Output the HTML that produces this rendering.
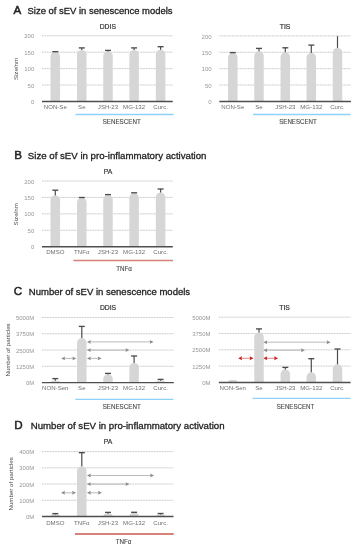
<!DOCTYPE html>
<html><head><meta charset="utf-8"><style>
html,body{margin:0;padding:0;background:#fff;}
body{width:359px;height:550px;overflow:hidden;}
svg{display:block;font-family:"Liberation Sans",Arial,sans-serif;}
</style></head><body>
<svg width="359" height="550" viewBox="0 0 359 550">
<rect width="359" height="550" fill="#fff"/>
<text x="13.60" y="13.70" font-size="11.6" fill="#1f1f1f" text-anchor="start" font-weight="normal" stroke="#1f1f1f" stroke-width="0.5">A</text>
<text x="27.50" y="13.50" font-size="9.2" fill="#1f1f1f" text-anchor="start" font-weight="normal" stroke="#1f1f1f" stroke-width="0.3" textLength="145.0" lengthAdjust="spacingAndGlyphs">Size of sEV in senescence models</text>
<text x="14.20" y="158.70" font-size="11.6" fill="#1f1f1f" text-anchor="start" font-weight="normal" stroke="#1f1f1f" stroke-width="0.5">B</text>
<text x="27.80" y="158.50" font-size="9.2" fill="#1f1f1f" text-anchor="start" font-weight="normal" stroke="#1f1f1f" stroke-width="0.3" textLength="178.7" lengthAdjust="spacingAndGlyphs">Size of sEV in pro-inflammatory activation</text>
<text x="13.80" y="294.80" font-size="11.6" fill="#1f1f1f" text-anchor="start" font-weight="normal" stroke="#1f1f1f" stroke-width="0.5">C</text>
<text x="28.80" y="294.60" font-size="9.2" fill="#1f1f1f" text-anchor="start" font-weight="normal" stroke="#1f1f1f" stroke-width="0.3" textLength="161.3" lengthAdjust="spacingAndGlyphs">Number of sEV in senescence models</text>
<text x="14.30" y="429.10" font-size="11.6" fill="#1f1f1f" text-anchor="start" font-weight="normal" stroke="#1f1f1f" stroke-width="0.5">D</text>
<text x="30.70" y="428.90" font-size="9.2" fill="#1f1f1f" text-anchor="start" font-weight="normal" stroke="#1f1f1f" stroke-width="0.3" textLength="193.8" lengthAdjust="spacingAndGlyphs">Number of sEV in pro-inflammatory activation</text>
<text x="34.30" y="104.00" font-size="6.0" fill="#979797" text-anchor="end" font-weight="normal" >0</text>
<line x1="42.00" y1="85.00" x2="172.80" y2="85.00" stroke="#bdbdbd" stroke-width="0.9" stroke-dasharray="1 0.6"/>
<text x="34.30" y="87.60" font-size="6.0" fill="#979797" text-anchor="end" font-weight="normal" >50</text>
<line x1="42.00" y1="68.60" x2="172.80" y2="68.60" stroke="#bdbdbd" stroke-width="0.9" stroke-dasharray="1 0.6"/>
<text x="34.30" y="71.20" font-size="6.0" fill="#979797" text-anchor="end" font-weight="normal" >100</text>
<line x1="42.00" y1="52.20" x2="172.80" y2="52.20" stroke="#bdbdbd" stroke-width="0.9" stroke-dasharray="1 0.6"/>
<text x="34.30" y="54.80" font-size="6.0" fill="#979797" text-anchor="end" font-weight="normal" >150</text>
<line x1="42.00" y1="35.80" x2="172.80" y2="35.80" stroke="#bdbdbd" stroke-width="0.9" stroke-dasharray="1 0.6"/>
<text x="34.30" y="38.40" font-size="6.0" fill="#979797" text-anchor="end" font-weight="normal" >200</text>
<path d="M50.55,101.40 L50.55,56.60 A4.60,4.60 0 0 1 55.15,52.00 L55.45,52.00 A4.60,4.60 0 0 1 60.05,56.60 L60.05,101.40 Z" fill="#d6d6d6"/>
<path d="M77.05,101.40 L77.05,54.60 A4.60,4.60 0 0 1 81.65,50.00 L81.95,50.00 A4.60,4.60 0 0 1 86.55,54.60 L86.55,101.40 Z" fill="#d6d6d6"/>
<path d="M103.25,101.40 L103.25,56.00 A4.60,4.60 0 0 1 107.85,51.40 L108.15,51.40 A4.60,4.60 0 0 1 112.75,56.00 L112.75,101.40 Z" fill="#d6d6d6"/>
<path d="M129.35,101.40 L129.35,54.60 A4.60,4.60 0 0 1 133.95,50.00 L134.25,50.00 A4.60,4.60 0 0 1 138.85,54.60 L138.85,101.40 Z" fill="#d6d6d6"/>
<path d="M155.85,101.40 L155.85,54.30 A4.60,4.60 0 0 1 160.45,49.70 L160.75,49.70 A4.60,4.60 0 0 1 165.35,54.30 L165.35,101.40 Z" fill="#d6d6d6"/>
<line x1="52.30" y1="51.70" x2="58.30" y2="51.70" stroke="#4d4d4d" stroke-width="1.35" />
<line x1="81.80" y1="50.00" x2="81.80" y2="47.90" stroke="#4d4d4d" stroke-width="1.2" />
<line x1="78.80" y1="47.90" x2="84.80" y2="47.90" stroke="#4d4d4d" stroke-width="1.35" />
<line x1="108.00" y1="51.40" x2="108.00" y2="50.40" stroke="#4d4d4d" stroke-width="1.2" />
<line x1="105.00" y1="50.40" x2="111.00" y2="50.40" stroke="#4d4d4d" stroke-width="1.35" />
<line x1="134.10" y1="50.00" x2="134.10" y2="47.90" stroke="#4d4d4d" stroke-width="1.2" />
<line x1="131.10" y1="47.90" x2="137.10" y2="47.90" stroke="#4d4d4d" stroke-width="1.35" />
<line x1="160.60" y1="49.70" x2="160.60" y2="46.70" stroke="#4d4d4d" stroke-width="1.2" />
<line x1="157.60" y1="46.70" x2="163.60" y2="46.70" stroke="#4d4d4d" stroke-width="1.35" />
<line x1="42.00" y1="101.40" x2="172.80" y2="101.40" stroke="#4e4e4e" stroke-width="1.45" />
<text x="55.30" y="109.40" font-size="6.1" fill="#707070" text-anchor="middle" font-weight="normal" >NON-Se</text>
<text x="81.80" y="109.40" font-size="6.1" fill="#707070" text-anchor="middle" font-weight="normal" >Se</text>
<text x="108.00" y="109.40" font-size="6.1" fill="#707070" text-anchor="middle" font-weight="normal" >JSH-23</text>
<text x="134.10" y="109.40" font-size="6.1" fill="#707070" text-anchor="middle" font-weight="normal" >MG-132</text>
<text x="160.60" y="109.40" font-size="6.1" fill="#707070" text-anchor="middle" font-weight="normal" >Curc.</text>
<text x="107.80" y="28.70" font-size="6.8" fill="#333333" text-anchor="middle" font-weight="normal" stroke="#333333" stroke-width="0.2">DDIS</text>
<line x1="75.50" y1="114.50" x2="173.60" y2="114.50" stroke="#8ed2fa" stroke-width="1.35" />
<text x="121.70" y="123.90" font-size="6.5" fill="#4a4a4a" text-anchor="middle" font-weight="normal" stroke="#4a4a4a" stroke-width="0.12" textLength="38" lengthAdjust="spacingAndGlyphs">SENESCENT</text>
<text x="18.30" y="69.00" font-size="6.15" fill="#4a4a4a" text-anchor="middle" font-weight="normal" transform="rotate(-90 18.30 69.00)">Size/nm</text>
<text x="211.60" y="104.00" font-size="6.0" fill="#979797" text-anchor="end" font-weight="normal" >0</text>
<line x1="219.30" y1="85.03" x2="350.90" y2="85.03" stroke="#bdbdbd" stroke-width="0.9" stroke-dasharray="1 0.6"/>
<text x="211.60" y="87.62" font-size="6.0" fill="#979797" text-anchor="end" font-weight="normal" >50</text>
<line x1="219.30" y1="68.65" x2="350.90" y2="68.65" stroke="#bdbdbd" stroke-width="0.9" stroke-dasharray="1 0.6"/>
<text x="211.60" y="71.25" font-size="6.0" fill="#979797" text-anchor="end" font-weight="normal" >100</text>
<line x1="219.30" y1="52.28" x2="350.90" y2="52.28" stroke="#bdbdbd" stroke-width="0.9" stroke-dasharray="1 0.6"/>
<text x="211.60" y="54.88" font-size="6.0" fill="#979797" text-anchor="end" font-weight="normal" >150</text>
<line x1="219.30" y1="35.90" x2="350.90" y2="35.90" stroke="#bdbdbd" stroke-width="0.9" stroke-dasharray="1 0.6"/>
<text x="211.60" y="38.50" font-size="6.0" fill="#979797" text-anchor="end" font-weight="normal" >200</text>
<path d="M228.05,101.40 L228.05,57.40 A4.60,4.60 0 0 1 232.65,52.80 L232.95,52.80 A4.60,4.60 0 0 1 237.55,57.40 L237.55,101.40 Z" fill="#d6d6d6"/>
<path d="M254.25,101.40 L254.25,55.90 A4.60,4.60 0 0 1 258.85,51.30 L259.15,51.30 A4.60,4.60 0 0 1 263.75,55.90 L263.75,101.40 Z" fill="#d6d6d6"/>
<path d="M280.55,101.40 L280.55,56.90 A4.60,4.60 0 0 1 285.15,52.30 L285.45,52.30 A4.60,4.60 0 0 1 290.05,56.90 L290.05,101.40 Z" fill="#d6d6d6"/>
<path d="M306.55,101.40 L306.55,57.60 A4.60,4.60 0 0 1 311.15,53.00 L311.45,53.00 A4.60,4.60 0 0 1 316.05,57.60 L316.05,101.40 Z" fill="#d6d6d6"/>
<path d="M332.75,101.40 L332.75,52.50 A4.60,4.60 0 0 1 337.35,47.90 L337.65,47.90 A4.60,4.60 0 0 1 342.25,52.50 L342.25,101.40 Z" fill="#d6d6d6"/>
<line x1="229.80" y1="52.60" x2="235.80" y2="52.60" stroke="#4d4d4d" stroke-width="1.35" />
<line x1="259.00" y1="51.30" x2="259.00" y2="48.40" stroke="#4d4d4d" stroke-width="1.2" />
<line x1="256.00" y1="48.40" x2="262.00" y2="48.40" stroke="#4d4d4d" stroke-width="1.35" />
<line x1="285.30" y1="52.30" x2="285.30" y2="47.80" stroke="#4d4d4d" stroke-width="1.2" />
<line x1="282.30" y1="47.80" x2="288.30" y2="47.80" stroke="#4d4d4d" stroke-width="1.35" />
<line x1="311.30" y1="53.00" x2="311.30" y2="45.10" stroke="#4d4d4d" stroke-width="1.2" />
<line x1="308.30" y1="45.10" x2="314.30" y2="45.10" stroke="#4d4d4d" stroke-width="1.35" />
<line x1="337.50" y1="47.90" x2="337.50" y2="36.20" stroke="#4d4d4d" stroke-width="1.2" />
<line x1="219.30" y1="101.40" x2="350.90" y2="101.40" stroke="#4e4e4e" stroke-width="1.45" />
<text x="232.80" y="109.40" font-size="6.1" fill="#707070" text-anchor="middle" font-weight="normal" >NON-Se</text>
<text x="259.00" y="109.40" font-size="6.1" fill="#707070" text-anchor="middle" font-weight="normal" >Se</text>
<text x="285.30" y="109.40" font-size="6.1" fill="#707070" text-anchor="middle" font-weight="normal" >JSH-23</text>
<text x="311.30" y="109.40" font-size="6.1" fill="#707070" text-anchor="middle" font-weight="normal" >MG-132</text>
<text x="337.50" y="109.40" font-size="6.1" fill="#707070" text-anchor="middle" font-weight="normal" >Curc.</text>
<text x="285.10" y="28.70" font-size="6.8" fill="#333333" text-anchor="middle" font-weight="normal" stroke="#333333" stroke-width="0.2">TIS</text>
<line x1="253.00" y1="114.50" x2="350.60" y2="114.50" stroke="#8ed2fa" stroke-width="1.35" />
<text x="298.00" y="124.30" font-size="6.5" fill="#4a4a4a" text-anchor="middle" font-weight="normal" stroke="#4a4a4a" stroke-width="0.12" textLength="37.6" lengthAdjust="spacingAndGlyphs">SENESCENT</text>
<text x="34.30" y="249.30" font-size="6.0" fill="#979797" text-anchor="end" font-weight="normal" >0</text>
<line x1="42.00" y1="230.27" x2="172.80" y2="230.27" stroke="#bdbdbd" stroke-width="0.9" stroke-dasharray="1 0.6"/>
<text x="34.30" y="232.87" font-size="6.0" fill="#979797" text-anchor="end" font-weight="normal" >50</text>
<line x1="42.00" y1="213.85" x2="172.80" y2="213.85" stroke="#bdbdbd" stroke-width="0.9" stroke-dasharray="1 0.6"/>
<text x="34.30" y="216.45" font-size="6.0" fill="#979797" text-anchor="end" font-weight="normal" >100</text>
<line x1="42.00" y1="197.43" x2="172.80" y2="197.43" stroke="#bdbdbd" stroke-width="0.9" stroke-dasharray="1 0.6"/>
<text x="34.30" y="200.03" font-size="6.0" fill="#979797" text-anchor="end" font-weight="normal" >150</text>
<line x1="42.00" y1="181.00" x2="172.80" y2="181.00" stroke="#bdbdbd" stroke-width="0.9" stroke-dasharray="1 0.6"/>
<text x="34.30" y="183.60" font-size="6.0" fill="#979797" text-anchor="end" font-weight="normal" >200</text>
<path d="M50.55,246.70 L50.55,200.10 A4.60,4.60 0 0 1 55.15,195.50 L55.45,195.50 A4.60,4.60 0 0 1 60.05,200.10 L60.05,246.70 Z" fill="#d6d6d6"/>
<path d="M77.05,246.70 L77.05,202.30 A4.60,4.60 0 0 1 81.65,197.70 L81.95,197.70 A4.60,4.60 0 0 1 86.55,202.30 L86.55,246.70 Z" fill="#d6d6d6"/>
<path d="M103.25,246.70 L103.25,199.60 A4.60,4.60 0 0 1 107.85,195.00 L108.15,195.00 A4.60,4.60 0 0 1 112.75,199.60 L112.75,246.70 Z" fill="#d6d6d6"/>
<path d="M129.35,246.70 L129.35,197.90 A4.60,4.60 0 0 1 133.95,193.30 L134.25,193.30 A4.60,4.60 0 0 1 138.85,197.90 L138.85,246.70 Z" fill="#d6d6d6"/>
<path d="M155.85,246.70 L155.85,197.00 A4.60,4.60 0 0 1 160.45,192.40 L160.75,192.40 A4.60,4.60 0 0 1 165.35,197.00 L165.35,246.70 Z" fill="#d6d6d6"/>
<line x1="55.30" y1="195.50" x2="55.30" y2="190.20" stroke="#4d4d4d" stroke-width="1.2" />
<line x1="52.30" y1="190.20" x2="58.30" y2="190.20" stroke="#4d4d4d" stroke-width="1.35" />
<line x1="78.80" y1="197.50" x2="84.80" y2="197.50" stroke="#4d4d4d" stroke-width="1.35" />
<line x1="105.00" y1="194.60" x2="111.00" y2="194.60" stroke="#4d4d4d" stroke-width="1.35" />
<line x1="131.10" y1="192.80" x2="137.10" y2="192.80" stroke="#4d4d4d" stroke-width="1.35" />
<line x1="160.60" y1="192.40" x2="160.60" y2="189.00" stroke="#4d4d4d" stroke-width="1.2" />
<line x1="157.60" y1="189.00" x2="163.60" y2="189.00" stroke="#4d4d4d" stroke-width="1.35" />
<line x1="42.00" y1="246.70" x2="172.80" y2="246.70" stroke="#4e4e4e" stroke-width="1.45" />
<text x="55.30" y="254.40" font-size="6.1" fill="#707070" text-anchor="middle" font-weight="normal" >DMSO</text>
<text x="81.80" y="254.40" font-size="6.1" fill="#707070" text-anchor="middle" font-weight="normal" >TNF&#945;</text>
<text x="108.00" y="254.40" font-size="6.1" fill="#707070" text-anchor="middle" font-weight="normal" >JSH-23</text>
<text x="134.10" y="254.40" font-size="6.1" fill="#707070" text-anchor="middle" font-weight="normal" >MG-132</text>
<text x="160.60" y="254.40" font-size="6.1" fill="#707070" text-anchor="middle" font-weight="normal" >Curc.</text>
<text x="108.10" y="173.50" font-size="6.8" fill="#333333" text-anchor="middle" font-weight="normal" stroke="#333333" stroke-width="0.2">PA</text>
<line x1="73.40" y1="260.60" x2="173.00" y2="260.60" stroke="#d5827a" stroke-width="1.5" />
<text x="124.00" y="270.50" font-size="6.5" fill="#4a4a4a" text-anchor="middle" font-weight="normal" stroke="#4a4a4a" stroke-width="0.12" textLength="15.7" lengthAdjust="spacingAndGlyphs">TNF&#945;</text>
<text x="18.30" y="214.30" font-size="6.15" fill="#4a4a4a" text-anchor="middle" font-weight="normal" transform="rotate(-90 18.30 214.30)">Size/nm</text>
<text x="34.30" y="385.20" font-size="6.0" fill="#979797" text-anchor="end" font-weight="normal" >0M</text>
<line x1="42.00" y1="366.33" x2="173.80" y2="366.33" stroke="#bdbdbd" stroke-width="0.9" stroke-dasharray="1 0.6"/>
<text x="34.30" y="368.93" font-size="6.0" fill="#979797" text-anchor="end" font-weight="normal" >1250M</text>
<line x1="42.00" y1="350.05" x2="173.80" y2="350.05" stroke="#bdbdbd" stroke-width="0.9" stroke-dasharray="1 0.6"/>
<text x="34.30" y="352.65" font-size="6.0" fill="#979797" text-anchor="end" font-weight="normal" >2500M</text>
<line x1="42.00" y1="333.77" x2="173.80" y2="333.77" stroke="#bdbdbd" stroke-width="0.9" stroke-dasharray="1 0.6"/>
<text x="34.30" y="336.38" font-size="6.0" fill="#979797" text-anchor="end" font-weight="normal" >3750M</text>
<line x1="42.00" y1="317.50" x2="173.80" y2="317.50" stroke="#bdbdbd" stroke-width="0.9" stroke-dasharray="1 0.6"/>
<text x="34.30" y="320.10" font-size="6.0" fill="#979797" text-anchor="end" font-weight="normal" >5000M</text>
<path d="M50.55,382.60 L50.55,382.60 A1.90,1.90 0 0 1 52.45,380.70 L58.15,380.70 A1.90,1.90 0 0 1 60.05,382.60 L60.05,382.60 Z" fill="#d6d6d6"/>
<path d="M77.05,382.60 L77.05,342.70 A4.60,4.60 0 0 1 81.65,338.10 L81.95,338.10 A4.60,4.60 0 0 1 86.55,342.70 L86.55,382.60 Z" fill="#d6d6d6"/>
<path d="M103.25,382.60 L103.25,379.10 A4.60,4.60 0 0 1 107.85,374.50 L108.15,374.50 A4.60,4.60 0 0 1 112.75,379.10 L112.75,382.60 Z" fill="#d6d6d6"/>
<path d="M129.35,382.60 L129.35,367.60 A4.60,4.60 0 0 1 133.95,363.00 L134.25,363.00 A4.60,4.60 0 0 1 138.85,367.60 L138.85,382.60 Z" fill="#d6d6d6"/>
<path d="M155.85,382.60 L155.85,382.60 A1.80,1.80 0 0 1 157.65,380.80 L163.55,380.80 A1.80,1.80 0 0 1 165.35,382.60 L165.35,382.60 Z" fill="#d6d6d6"/>
<line x1="55.30" y1="380.70" x2="55.30" y2="378.60" stroke="#4d4d4d" stroke-width="1.2" />
<line x1="52.30" y1="378.60" x2="58.30" y2="378.60" stroke="#4d4d4d" stroke-width="1.35" />
<line x1="81.80" y1="338.10" x2="81.80" y2="326.40" stroke="#4d4d4d" stroke-width="1.2" />
<line x1="78.80" y1="326.40" x2="84.80" y2="326.40" stroke="#4d4d4d" stroke-width="1.35" />
<line x1="108.00" y1="374.50" x2="108.00" y2="373.40" stroke="#4d4d4d" stroke-width="1.2" />
<line x1="105.00" y1="373.40" x2="111.00" y2="373.40" stroke="#4d4d4d" stroke-width="1.35" />
<line x1="134.10" y1="363.00" x2="134.10" y2="356.00" stroke="#4d4d4d" stroke-width="1.2" />
<line x1="131.10" y1="356.00" x2="137.10" y2="356.00" stroke="#4d4d4d" stroke-width="1.35" />
<line x1="160.60" y1="380.80" x2="160.60" y2="379.40" stroke="#4d4d4d" stroke-width="1.2" />
<line x1="157.60" y1="379.40" x2="163.60" y2="379.40" stroke="#4d4d4d" stroke-width="1.35" />
<line x1="42.00" y1="382.60" x2="173.80" y2="382.60" stroke="#4e4e4e" stroke-width="1.45" />
<text x="55.30" y="390.30" font-size="6.1" fill="#707070" text-anchor="middle" font-weight="normal" >NON-Sen</text>
<text x="81.80" y="390.30" font-size="6.1" fill="#707070" text-anchor="middle" font-weight="normal" >Se</text>
<text x="108.00" y="390.30" font-size="6.1" fill="#707070" text-anchor="middle" font-weight="normal" >JSH-23</text>
<text x="134.10" y="390.30" font-size="6.1" fill="#707070" text-anchor="middle" font-weight="normal" >MG-132</text>
<text x="160.60" y="390.30" font-size="6.1" fill="#707070" text-anchor="middle" font-weight="normal" >Curc.</text>
<text x="108.00" y="309.50" font-size="6.8" fill="#333333" text-anchor="middle" font-weight="normal" stroke="#333333" stroke-width="0.2">DDIS</text>
<line x1="75.30" y1="399.40" x2="173.40" y2="399.40" stroke="#8ed2fa" stroke-width="1.4" />
<text x="121.70" y="409.00" font-size="6.5" fill="#4a4a4a" text-anchor="middle" font-weight="normal" stroke="#4a4a4a" stroke-width="0.12" textLength="38" lengthAdjust="spacingAndGlyphs">SENESCENT</text>
<text x="10.30" y="350.00" font-size="6.15" fill="#4a4a4a" text-anchor="middle" font-weight="normal" transform="rotate(-90 10.30 350.00)">Number of particles</text>
<line x1="64.32" y1="358.40" x2="73.18" y2="358.40" stroke="#a9a9a9" stroke-width="0.8" />
<path d="M61.20,358.40 L65.10,356.45 L64.52,358.40 L65.10,360.35 Z" fill="#8a8a8a"/>
<path d="M76.30,358.40 L72.40,356.45 L72.98,358.40 L72.40,360.35 Z" fill="#8a8a8a"/>
<line x1="90.12" y1="341.90" x2="150.48" y2="341.90" stroke="#a9a9a9" stroke-width="0.8" />
<path d="M87.00,341.90 L90.90,339.95 L90.31,341.90 L90.90,343.85 Z" fill="#8a8a8a"/>
<path d="M153.60,341.90 L149.70,339.95 L150.28,341.90 L149.70,343.85 Z" fill="#8a8a8a"/>
<line x1="90.12" y1="350.10" x2="126.28" y2="350.10" stroke="#a9a9a9" stroke-width="0.8" />
<path d="M87.00,350.10 L90.90,348.15 L90.31,350.10 L90.90,352.05 Z" fill="#8a8a8a"/>
<path d="M129.40,350.10 L125.50,348.15 L126.09,350.10 L125.50,352.05 Z" fill="#8a8a8a"/>
<line x1="90.12" y1="358.40" x2="98.48" y2="358.40" stroke="#a9a9a9" stroke-width="0.8" />
<path d="M87.00,358.40 L90.90,356.45 L90.31,358.40 L90.90,360.35 Z" fill="#8a8a8a"/>
<path d="M101.60,358.40 L97.70,356.45 L98.28,358.40 L97.70,360.35 Z" fill="#8a8a8a"/>
<text x="210.50" y="385.00" font-size="6.0" fill="#979797" text-anchor="end" font-weight="normal" >0M</text>
<line x1="218.80" y1="366.10" x2="350.60" y2="366.10" stroke="#bdbdbd" stroke-width="0.9" stroke-dasharray="1 0.6"/>
<text x="210.50" y="368.70" font-size="6.0" fill="#979797" text-anchor="end" font-weight="normal" >1250M</text>
<line x1="218.80" y1="349.80" x2="350.60" y2="349.80" stroke="#bdbdbd" stroke-width="0.9" stroke-dasharray="1 0.6"/>
<text x="210.50" y="352.40" font-size="6.0" fill="#979797" text-anchor="end" font-weight="normal" >2500M</text>
<line x1="218.80" y1="333.50" x2="350.60" y2="333.50" stroke="#bdbdbd" stroke-width="0.9" stroke-dasharray="1 0.6"/>
<text x="210.50" y="336.10" font-size="6.0" fill="#979797" text-anchor="end" font-weight="normal" >3750M</text>
<line x1="218.80" y1="317.20" x2="350.60" y2="317.20" stroke="#bdbdbd" stroke-width="0.9" stroke-dasharray="1 0.6"/>
<text x="210.50" y="319.80" font-size="6.0" fill="#979797" text-anchor="end" font-weight="normal" >5000M</text>
<path d="M228.05,382.40 L228.05,382.40 A2.40,2.40 0 0 1 230.45,380.00 L235.15,380.00 A2.40,2.40 0 0 1 237.55,382.40 L237.55,382.40 Z" fill="#d6d6d6"/>
<path d="M254.25,382.40 L254.25,337.20 A4.60,4.60 0 0 1 258.85,332.60 L259.15,332.60 A4.60,4.60 0 0 1 263.75,337.20 L263.75,382.40 Z" fill="#d6d6d6"/>
<path d="M280.55,382.40 L280.55,374.00 A4.60,4.60 0 0 1 285.15,369.40 L285.45,369.40 A4.60,4.60 0 0 1 290.05,374.00 L290.05,382.40 Z" fill="#d6d6d6"/>
<path d="M306.55,382.40 L306.55,376.90 A4.60,4.60 0 0 1 311.15,372.30 L311.45,372.30 A4.60,4.60 0 0 1 316.05,376.90 L316.05,382.40 Z" fill="#d6d6d6"/>
<path d="M332.75,382.40 L332.75,368.90 A4.60,4.60 0 0 1 337.35,364.30 L337.65,364.30 A4.60,4.60 0 0 1 342.25,368.90 L342.25,382.40 Z" fill="#d6d6d6"/>
<line x1="259.00" y1="332.60" x2="259.00" y2="328.90" stroke="#4d4d4d" stroke-width="1.2" />
<line x1="256.00" y1="328.90" x2="262.00" y2="328.90" stroke="#4d4d4d" stroke-width="1.35" />
<line x1="285.30" y1="369.40" x2="285.30" y2="367.40" stroke="#4d4d4d" stroke-width="1.2" />
<line x1="282.30" y1="367.40" x2="288.30" y2="367.40" stroke="#4d4d4d" stroke-width="1.35" />
<line x1="311.30" y1="372.30" x2="311.30" y2="358.70" stroke="#4d4d4d" stroke-width="1.2" />
<line x1="308.30" y1="358.70" x2="314.30" y2="358.70" stroke="#4d4d4d" stroke-width="1.35" />
<line x1="337.50" y1="364.30" x2="337.50" y2="349.00" stroke="#4d4d4d" stroke-width="1.2" />
<line x1="334.50" y1="349.00" x2="340.50" y2="349.00" stroke="#4d4d4d" stroke-width="1.35" />
<line x1="218.80" y1="382.40" x2="350.60" y2="382.40" stroke="#4e4e4e" stroke-width="1.45" />
<text x="232.80" y="390.30" font-size="6.1" fill="#707070" text-anchor="middle" font-weight="normal" >NON-Sen</text>
<text x="259.00" y="390.30" font-size="6.1" fill="#707070" text-anchor="middle" font-weight="normal" >Se</text>
<text x="285.30" y="390.30" font-size="6.1" fill="#707070" text-anchor="middle" font-weight="normal" >JSH-23</text>
<text x="311.30" y="390.30" font-size="6.1" fill="#707070" text-anchor="middle" font-weight="normal" >MG-132</text>
<text x="337.50" y="390.30" font-size="6.1" fill="#707070" text-anchor="middle" font-weight="normal" >Curc.</text>
<text x="284.60" y="309.50" font-size="6.8" fill="#333333" text-anchor="middle" font-weight="normal" stroke="#333333" stroke-width="0.2">TIS</text>
<line x1="252.60" y1="398.40" x2="350.60" y2="398.40" stroke="#8ed2fa" stroke-width="1.4" />
<text x="295.50" y="409.00" font-size="6.5" fill="#4a4a4a" text-anchor="middle" font-weight="normal" stroke="#4a4a4a" stroke-width="0.12" textLength="37.6" lengthAdjust="spacingAndGlyphs">SENESCENT</text>
<line x1="241.32" y1="358.30" x2="250.38" y2="358.30" stroke="#d86a6a" stroke-width="0.8" />
<path d="M238.20,358.30 L242.10,356.35 L241.51,358.30 L242.10,360.25 Z" fill="#c91818"/>
<path d="M253.50,358.30 L249.60,356.35 L250.19,358.30 L249.60,360.25 Z" fill="#c91818"/>
<line x1="266.52" y1="358.30" x2="274.88" y2="358.30" stroke="#d86a6a" stroke-width="0.8" />
<path d="M263.40,358.30 L267.30,356.35 L266.71,358.30 L267.30,360.25 Z" fill="#c91818"/>
<path d="M278.00,358.30 L274.10,356.35 L274.69,358.30 L274.10,360.25 Z" fill="#c91818"/>
<line x1="266.52" y1="342.20" x2="327.38" y2="342.20" stroke="#a9a9a9" stroke-width="0.8" />
<path d="M263.40,342.20 L267.30,340.25 L266.71,342.20 L267.30,344.15 Z" fill="#8a8a8a"/>
<path d="M330.50,342.20 L326.60,340.25 L327.19,342.20 L326.60,344.15 Z" fill="#8a8a8a"/>
<line x1="266.52" y1="350.20" x2="301.78" y2="350.20" stroke="#a9a9a9" stroke-width="0.8" />
<path d="M263.40,350.20 L267.30,348.25 L266.71,350.20 L267.30,352.15 Z" fill="#8a8a8a"/>
<path d="M304.90,350.20 L301.00,348.25 L301.58,350.20 L301.00,352.15 Z" fill="#8a8a8a"/>
<text x="34.30" y="519.10" font-size="6.0" fill="#979797" text-anchor="end" font-weight="normal" >0M</text>
<line x1="42.00" y1="500.27" x2="173.50" y2="500.27" stroke="#bdbdbd" stroke-width="0.9" stroke-dasharray="1 0.6"/>
<text x="34.30" y="502.88" font-size="6.0" fill="#979797" text-anchor="end" font-weight="normal" >100M</text>
<line x1="42.00" y1="484.05" x2="173.50" y2="484.05" stroke="#bdbdbd" stroke-width="0.9" stroke-dasharray="1 0.6"/>
<text x="34.30" y="486.65" font-size="6.0" fill="#979797" text-anchor="end" font-weight="normal" >200M</text>
<line x1="42.00" y1="467.83" x2="173.50" y2="467.83" stroke="#bdbdbd" stroke-width="0.9" stroke-dasharray="1 0.6"/>
<text x="34.30" y="470.43" font-size="6.0" fill="#979797" text-anchor="end" font-weight="normal" >300M</text>
<line x1="42.00" y1="451.60" x2="173.50" y2="451.60" stroke="#bdbdbd" stroke-width="0.9" stroke-dasharray="1 0.6"/>
<text x="34.30" y="454.20" font-size="6.0" fill="#979797" text-anchor="end" font-weight="normal" >400M</text>
<path d="M50.55,516.50 L50.55,516.50 A1.90,1.90 0 0 1 52.45,514.60 L58.15,514.60 A1.90,1.90 0 0 1 60.05,516.50 L60.05,516.50 Z" fill="#d6d6d6"/>
<path d="M77.05,516.50 L77.05,470.90 A4.60,4.60 0 0 1 81.65,466.30 L81.95,466.30 A4.60,4.60 0 0 1 86.55,470.90 L86.55,516.50 Z" fill="#d6d6d6"/>
<path d="M103.25,516.50 L103.25,516.50 A2.70,2.70 0 0 1 105.95,513.80 L110.05,513.80 A2.70,2.70 0 0 1 112.75,516.50 L112.75,516.50 Z" fill="#d6d6d6"/>
<path d="M129.35,516.50 L129.35,516.50 A3.60,3.60 0 0 1 132.95,512.90 L135.25,512.90 A3.60,3.60 0 0 1 138.85,516.50 L138.85,516.50 Z" fill="#d6d6d6"/>
<path d="M155.85,516.50 L155.85,516.50 A2.10,2.10 0 0 1 157.95,514.40 L163.25,514.40 A2.10,2.10 0 0 1 165.35,516.50 L165.35,516.50 Z" fill="#d6d6d6"/>
<line x1="55.30" y1="514.60" x2="55.30" y2="513.60" stroke="#4d4d4d" stroke-width="1.2" />
<line x1="52.30" y1="513.60" x2="58.30" y2="513.60" stroke="#4d4d4d" stroke-width="1.35" />
<line x1="81.80" y1="466.30" x2="81.80" y2="452.70" stroke="#4d4d4d" stroke-width="1.2" />
<line x1="78.80" y1="452.70" x2="84.80" y2="452.70" stroke="#4d4d4d" stroke-width="1.35" />
<line x1="108.00" y1="513.80" x2="108.00" y2="512.40" stroke="#4d4d4d" stroke-width="1.2" />
<line x1="105.00" y1="512.40" x2="111.00" y2="512.40" stroke="#4d4d4d" stroke-width="1.35" />
<line x1="131.10" y1="512.30" x2="137.10" y2="512.30" stroke="#4d4d4d" stroke-width="1.35" />
<line x1="160.60" y1="514.40" x2="160.60" y2="513.50" stroke="#4d4d4d" stroke-width="1.2" />
<line x1="157.60" y1="513.50" x2="163.60" y2="513.50" stroke="#4d4d4d" stroke-width="1.35" />
<line x1="42.00" y1="516.50" x2="173.50" y2="516.50" stroke="#4e4e4e" stroke-width="1.45" />
<text x="55.30" y="524.60" font-size="6.1" fill="#707070" text-anchor="middle" font-weight="normal" >DMSO</text>
<text x="81.80" y="524.60" font-size="6.1" fill="#707070" text-anchor="middle" font-weight="normal" >TNF&#945;</text>
<text x="108.00" y="524.60" font-size="6.1" fill="#707070" text-anchor="middle" font-weight="normal" >JSH-23</text>
<text x="134.10" y="524.60" font-size="6.1" fill="#707070" text-anchor="middle" font-weight="normal" >MG-132</text>
<text x="160.60" y="524.60" font-size="6.1" fill="#707070" text-anchor="middle" font-weight="normal" >Curc.</text>
<text x="108.00" y="443.50" font-size="6.8" fill="#333333" text-anchor="middle" font-weight="normal" stroke="#333333" stroke-width="0.2">PA</text>
<line x1="75.00" y1="534.00" x2="173.70" y2="534.00" stroke="#d5827a" stroke-width="1.8" />
<text x="123.50" y="543.80" font-size="6.5" fill="#4a4a4a" text-anchor="middle" font-weight="normal" stroke="#4a4a4a" stroke-width="0.12" textLength="15.7" lengthAdjust="spacingAndGlyphs">TNF&#945;</text>
<text x="13.30" y="483.90" font-size="6.15" fill="#4a4a4a" text-anchor="middle" font-weight="normal" transform="rotate(-90 13.30 483.90)">Number of particles</text>
<line x1="64.22" y1="492.80" x2="72.88" y2="492.80" stroke="#a9a9a9" stroke-width="0.8" />
<path d="M61.10,492.80 L65.00,490.85 L64.42,492.80 L65.00,494.75 Z" fill="#8a8a8a"/>
<path d="M76.00,492.80 L72.10,490.85 L72.69,492.80 L72.10,494.75 Z" fill="#8a8a8a"/>
<line x1="90.12" y1="475.50" x2="150.88" y2="475.50" stroke="#a9a9a9" stroke-width="0.8" />
<path d="M87.00,475.50 L90.90,473.55 L90.31,475.50 L90.90,477.45 Z" fill="#8a8a8a"/>
<path d="M154.00,475.50 L150.10,473.55 L150.69,475.50 L150.10,477.45 Z" fill="#8a8a8a"/>
<line x1="90.12" y1="484.10" x2="126.38" y2="484.10" stroke="#a9a9a9" stroke-width="0.8" />
<path d="M87.00,484.10 L90.90,482.15 L90.31,484.10 L90.90,486.05 Z" fill="#8a8a8a"/>
<path d="M129.50,484.10 L125.60,482.15 L126.19,484.10 L125.60,486.05 Z" fill="#8a8a8a"/>
<line x1="90.12" y1="492.80" x2="98.78" y2="492.80" stroke="#a9a9a9" stroke-width="0.8" />
<path d="M87.00,492.80 L90.90,490.85 L90.31,492.80 L90.90,494.75 Z" fill="#8a8a8a"/>
<path d="M101.90,492.80 L98.00,490.85 L98.59,492.80 L98.00,494.75 Z" fill="#8a8a8a"/>
</svg>
</body></html>
